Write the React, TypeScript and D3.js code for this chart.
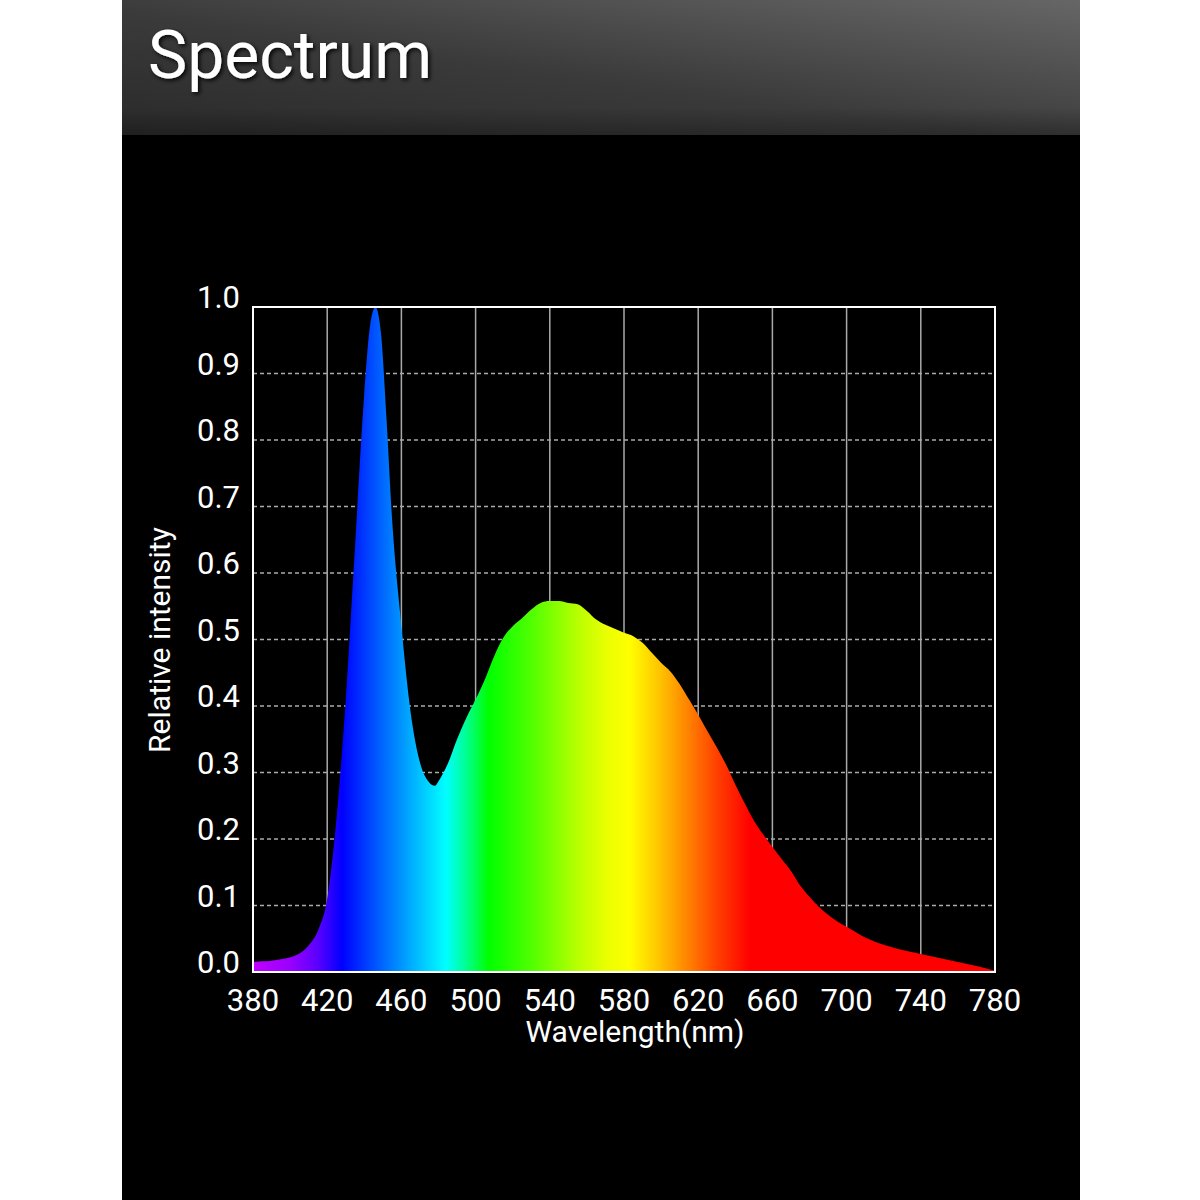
import React from "react";
import * as d3 from "d3";

const wavelengths = [
  380, 385, 390, 395, 400, 405, 410, 415, 420, 425, 430, 435, 440, 443, 446, 449, 452, 455, 460, 465,
  470, 475, 478, 480, 485, 490, 495, 500, 505, 510, 515, 520, 525, 530, 535, 540, 545, 550, 555, 560,
  565, 570, 575, 580, 585, 590, 595, 600, 605, 610, 615, 620, 625, 630, 635, 640, 645, 650, 655, 660,
  665, 670, 675, 680, 685, 690, 695, 700, 710, 720, 730, 740, 750, 760, 770, 780,
];
const intensities = [
  0.015, 0.016, 0.017, 0.019, 0.022, 0.028, 0.04, 0.062, 0.11, 0.23, 0.41, 0.64, 0.87, 0.97, 1.0, 0.96, 0.83, 0.68, 0.52, 0.39,
  0.315, 0.285, 0.28, 0.287, 0.313, 0.35, 0.382, 0.41, 0.44, 0.475, 0.503, 0.52, 0.532, 0.545, 0.555, 0.558, 0.558, 0.555, 0.553, 0.543,
  0.53, 0.522, 0.516, 0.51, 0.505, 0.495, 0.48, 0.465, 0.452, 0.433, 0.41, 0.387, 0.362, 0.338, 0.312, 0.282, 0.254, 0.228, 0.207, 0.188,
  0.17, 0.152, 0.13, 0.113, 0.098, 0.086, 0.076, 0.068, 0.052, 0.041, 0.033, 0.027, 0.021, 0.015, 0.009, 0.002,
];
const xTicks = [380, 420, 460, 500, 540, 580, 620, 660, 700, 740, 780];
const yTicks = [0, 0.1, 0.2, 0.3, 0.4, 0.5, 0.6, 0.7, 0.8, 0.9, 1.0];
const gradientWavelengths = [380, 400, 415, 428, 445, 460, 475, 484, 495, 507, 530, 555, 570, 583, 600, 615, 630, 648, 780];
const gradientColors = [
  "#c000ff", "#9a00ff", "#5a00ff", "#0000ff", "#0050ff", "#0095ff", "#00d8ff", "#00ffff", "#00ff90", "#00ff00",
  "#50ff00", "#b8ff00", "#e8ff00", "#ffff00", "#ffc000", "#ff8000", "#ff4000", "#ff0000", "#ff0000",
];
const titleText = "Spectrum";
const xTitle = "Wavelength(nm)";
const yTitle = "Relative intensity";

const FONT = "Roboto, 'Noto Sans', sans-serif";

export default function App() {
  const left = 253, right = 995, top = 307, bottom = 972;
  const x = d3.scaleLinear().domain([380, 780]).range([left, right]);
  const y = d3.scaleLinear().domain([0, 1]).range([bottom, top]);
  const data = wavelengths.map((w, i) => ({ w, v: intensities[i] }));
  const area = d3
    .area<{ w: number; v: number }>()
    .x((d) => x(d.w))
    .y0(y(0))
    .y1((d) => y(d.v))
    .curve(d3.curveMonotoneX);

  return (
    <svg width={1200} height={1200} style={{ position: "absolute", left: 0, top: 0 }}>
      <defs>
        <linearGradient id="spec" gradientUnits="userSpaceOnUse" x1={x(380)} x2={x(780)} y1={0} y2={0}>
          {gradientWavelengths.map((w, i) => (
            <stop key={i} offset={(w - 380) / 400} stopColor={gradientColors[i]} />
          ))}
        </linearGradient>
        <linearGradient id="hdr" x1="0" y1="1" x2="1" y2="0">
          <stop offset="0" stopColor="#2a2a2a" />
          <stop offset="0.45" stopColor="#3a3a3a" />
          <stop offset="1" stopColor="#666666" />
        </linearGradient>
        <linearGradient id="hdrV" x1="0" y1="0" x2="0" y2="1">
          <stop offset="0" stopColor="#000" stopOpacity="0" />
          <stop offset="0.8" stopColor="#000" stopOpacity="0" />
          <stop offset="1" stopColor="#000" stopOpacity="0.25" />
        </linearGradient>
        <filter id="shadow" x="-10%" y="-20%" width="130%" height="150%">
          <feDropShadow dx="2" dy="2" stdDeviation="2" floodColor="#000" floodOpacity="0.9" />
        </filter>
      </defs>
      <rect x={0} y={0} width={1200} height={1200} fill="#ffffff" />
      <rect x={122} y={0} width={958} height={1200} fill="#000000" />
      <rect x={122} y={0} width={958} height={135} fill="url(#hdr)" />
      <rect x={122} y={0} width={958} height={135} fill="url(#hdrV)" />
      <text x={148} y={78} fill="#ffffff" fontFamily={FONT} fontSize={66} filter="url(#shadow)">
        {titleText}
      </text>

      {/* grid */}
      {xTicks.slice(1, -1).map((t) => (
        <line key={"gx" + t} x1={x(t)} x2={x(t)} y1={top} y2={bottom} stroke="#aaaaaa" strokeWidth={1.5} />
      ))}
      {yTicks.slice(1, -1).map((t) => (
        <line key={"gy" + t} x1={left} x2={right} y1={y(t)} y2={y(t)} stroke="#aaaaaa" strokeWidth={1.5} strokeDasharray="4 3" />
      ))}

      <path d={area(data) || ""} fill="url(#spec)" />

      {/* frame */}
      <rect x={left} y={top} width={right - left} height={bottom - top} fill="none" stroke="#ffffff" strokeWidth={2} />

      {yTicks.map((t) => (
        <text key={"ty" + t} x={240} y={y(t) + 1} textAnchor="end" fill="#ffffff" fontFamily={FONT} fontSize={31}>
          {t.toFixed(1)}
        </text>
      ))}
      {xTicks.map((t) => (
        <text key={"tx" + t} x={x(t)} y={1011} textAnchor="middle" fill="#ffffff" fontFamily={FONT} fontSize={31}>
          {t}
        </text>
      ))}
      <text x={635} y={1042} textAnchor="middle" fill="#ffffff" fontFamily={FONT} fontSize={30}>
        {xTitle}
      </text>
      <text
        transform={`translate(170, 640) rotate(-90)`}
        textAnchor="middle"
        fill="#ffffff"
        fontFamily={FONT}
        fontSize={30}
      >
        {yTitle}
      </text>
    </svg>
  );
}
